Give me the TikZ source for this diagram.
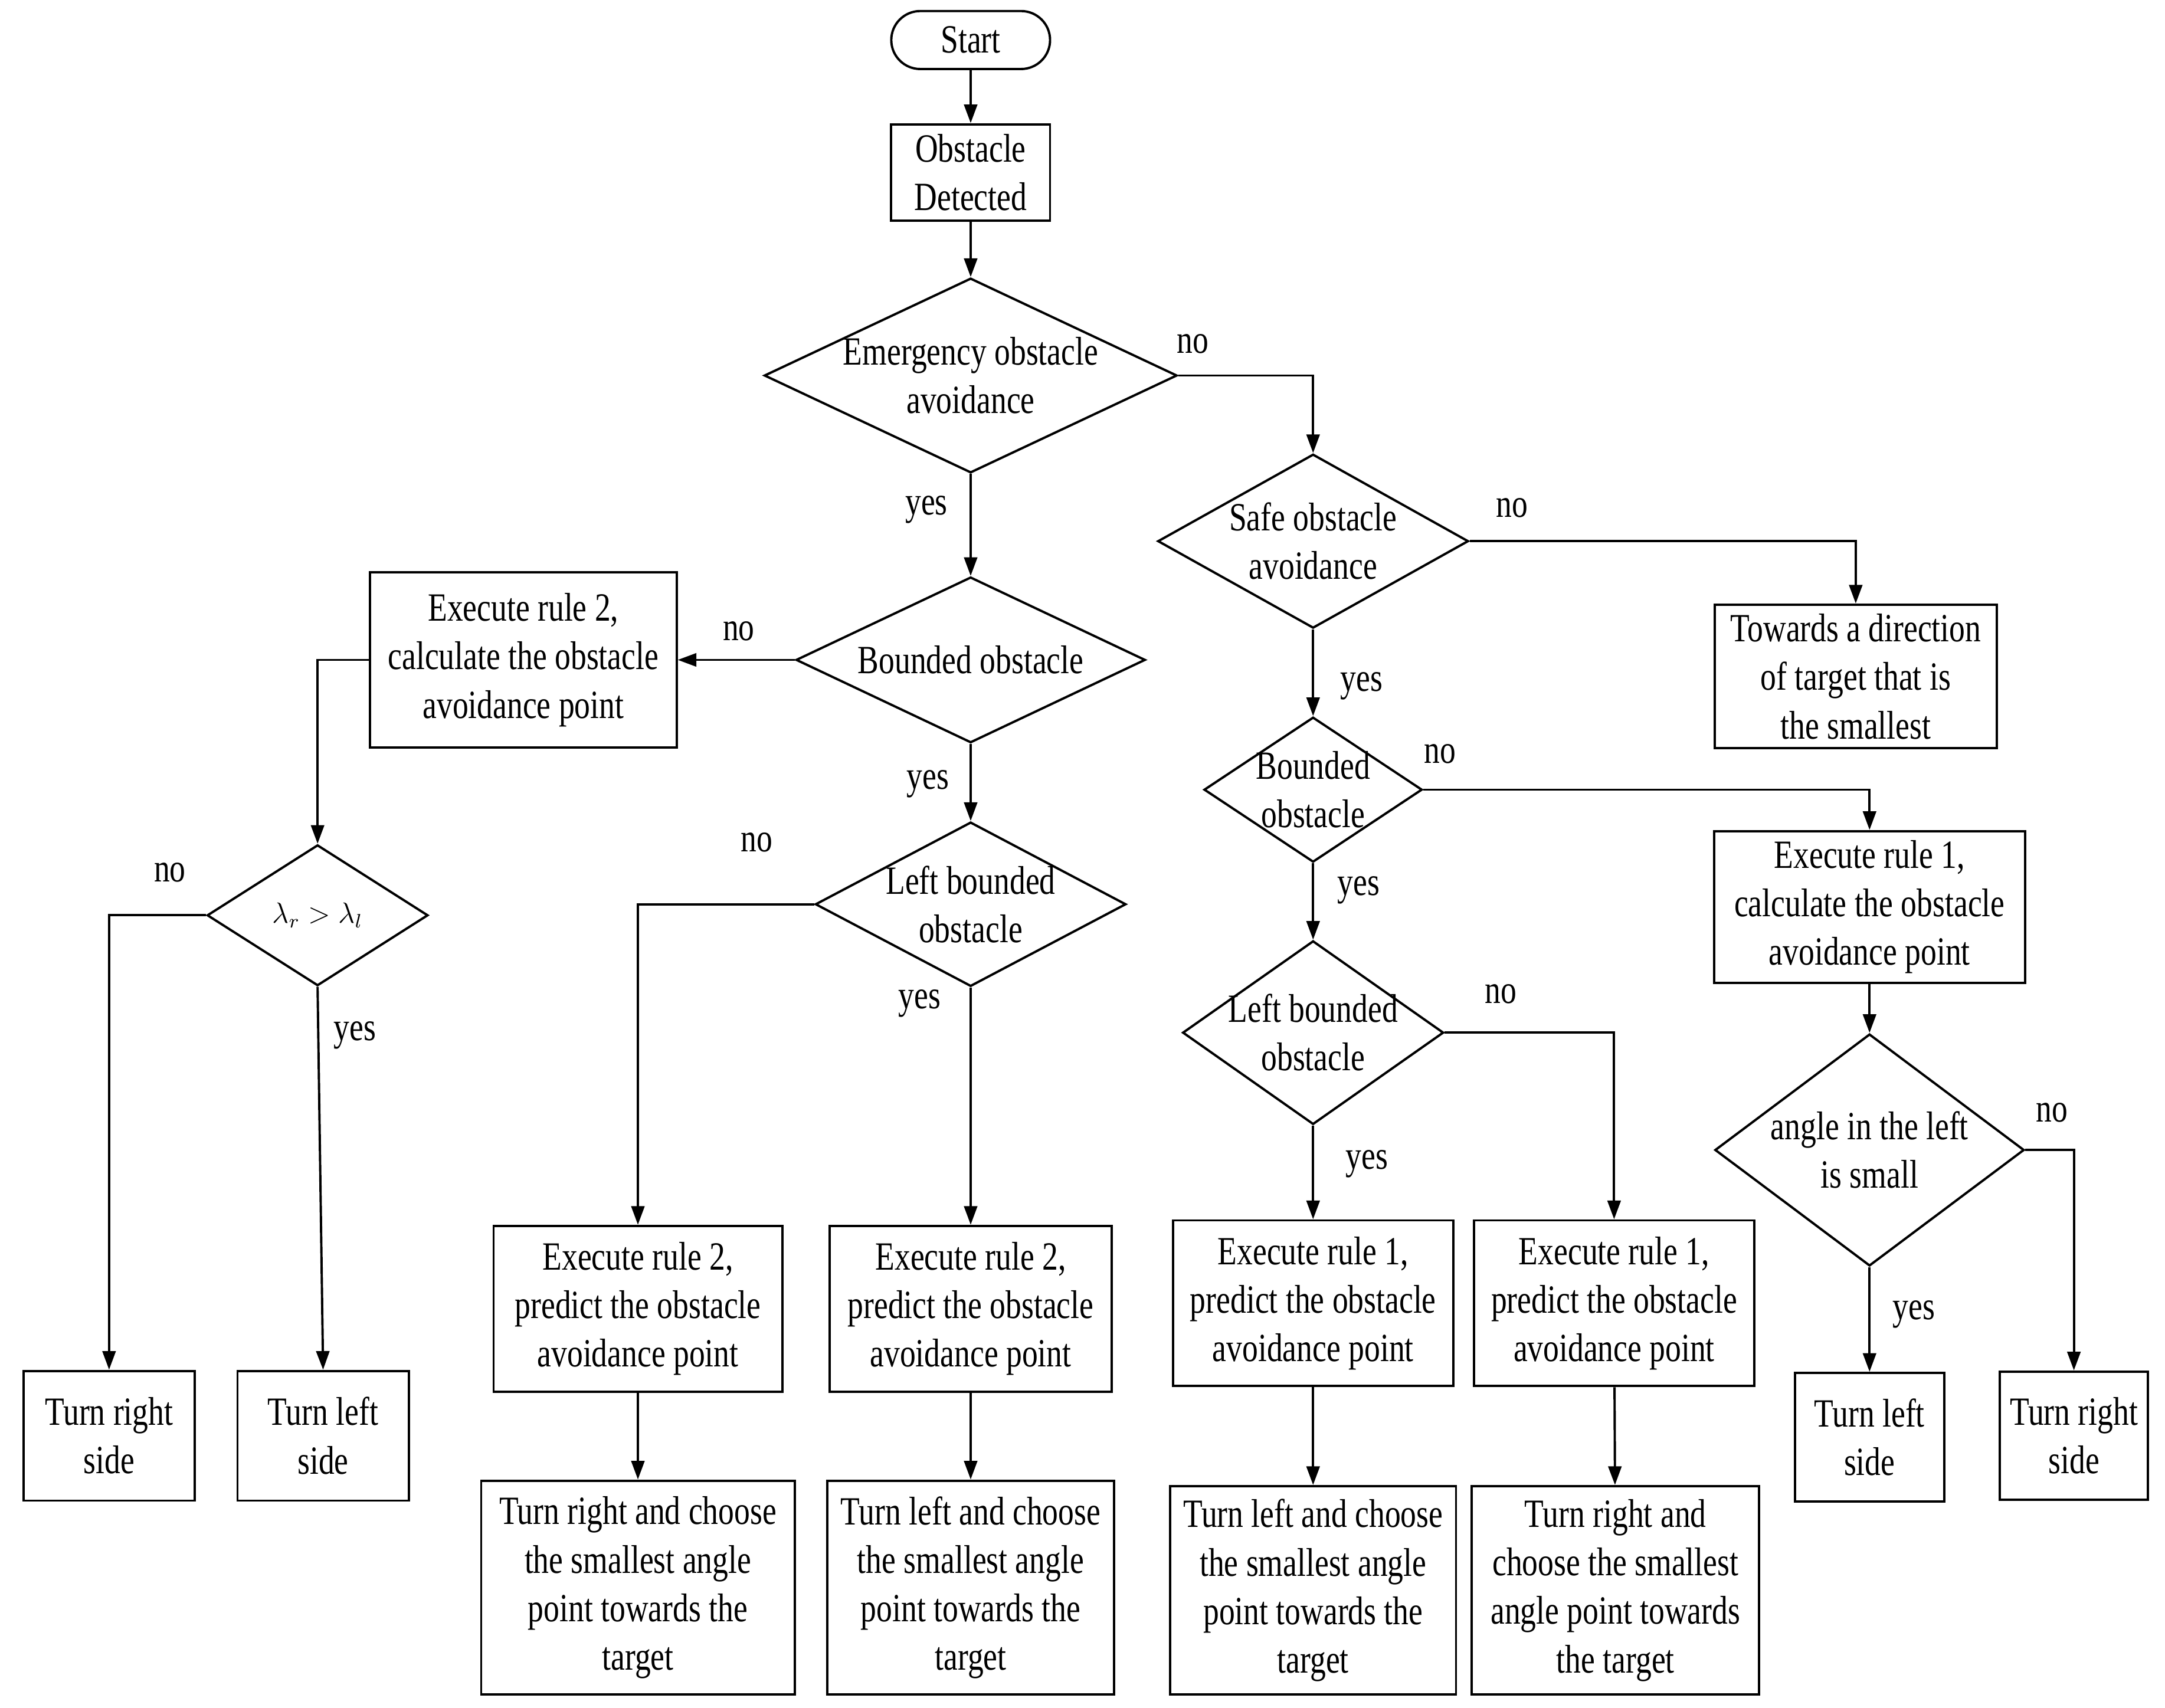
\documentclass[tikz,border=0pt]{standalone}
\usepackage{fontspec}
\setmainfont{Liberation Serif}[FakeStretch=0.79]
\usetikzlibrary{arrows.meta,shapes.geometric}

\begin{document}
\begin{tikzpicture}[
    font=\fontsize{16.5}{20}\selectfont,
    every path/.style={line width=0.95pt},
    arr/.style={-{Triangle[length=0.27cm,width=0.19cm]}},
    box/.style 2 args={draw, align=center, inner sep=0pt, minimum width=#1cm, minimum height=#2cm},
    decision/.style 2 args={diamond, draw, inner sep=0pt, minimum width=#1cm, minimum height=#2cm},
    txt/.style={align=center, inner sep=0pt}
]
    \useasboundingbox (0,0) rectangle (31.36,-24.74);

    \node[box={2.30}{0.84}, rounded corners=0.42cm] (start) at (14.06,-0.58) {Start};
    \node[box={2.30}{1.40}] (det) at (14.06,-2.50) {Obstacle\\Detected};
    \node[decision={5.98}{2.82}, label={[txt]center:Emergency obstacle\\avoidance}] (emg) at (14.06,-5.44) {};
    \node[decision={4.50}{2.52}, label={[txt]center:Safe obstacle\\avoidance}] (safe) at (19.02,-7.84) {};
    \node[box={4.08}{2.08}] (tow) at (26.88,-9.80) {Towards a direction\\of target that is\\the smallest};

    \node[decision={5.06}{2.40}, label={[txt]center:Bounded obstacle}] (bndl) at (14.06,-9.56) {};
    \node[box={4.44}{2.54}] (rtwo) at (7.58,-9.56) {Execute rule 2,\\calculate the obstacle\\avoidance point};
    \node[decision={3.20}{2.04}, label={[txt,font=\fontsize{12}{14}\selectfont]center:$\lambda_r>\lambda_l$}] (lam) at (4.60,-13.26) {};
    \node[box={2.48}{1.88}] (trl) at (1.58,-20.80) {Turn right\\side};
    \node[box={2.48}{1.88}] (tll) at (4.68,-20.80) {Turn left\\side};

    \node[decision={4.50}{2.38}, label={[txt]center:Left bounded\\obstacle}] (lbl) at (14.06,-13.10) {};
    \node[box={4.18}{2.40}] (pa) at (9.24,-18.96) {Execute rule 2,\\predict the obstacle\\avoidance point};
    \node[box={4.08}{2.40}] (pb) at (14.06,-18.96) {Execute rule 2,\\predict the obstacle\\avoidance point};
    \node[box={4.54}{3.10}] (ca) at (9.24,-23.00) {Turn right and choose\\the smallest angle\\point towards the\\target};
    \node[box={4.16}{3.10}] (cb) at (14.06,-23.00) {Turn left and choose\\the smallest angle\\point towards the\\target};

    \node[decision={3.16}{2.10}, label={[txt]center:Bounded\\obstacle}] (bndr) at (19.02,-11.44) {};
    \node[box={4.50}{2.20}] (rone) at (27.08,-13.14) {Execute rule 1,\\calculate the obstacle\\avoidance point};
    \node[decision={3.78}{2.66}, label={[txt]center:Left bounded\\obstacle}] (lbr) at (19.02,-14.96) {};
    \node[box={4.06}{2.40}] (pc) at (19.02,-18.88) {Execute rule 1,\\predict the obstacle\\avoidance point};
    \node[box={4.06}{2.40}] (pd) at (23.38,-18.88) {Execute rule 1,\\predict the obstacle\\avoidance point};
    \node[box={4.14}{3.02}] (cc) at (19.02,-23.04) {Turn left and choose\\the smallest angle\\point towards the\\target};
    \node[box={4.16}{3.02}] (cd) at (23.40,-23.04) {Turn right and\\choose the smallest\\angle point towards\\the target};

    \node[decision={4.48}{3.36}, label={[txt]center:angle in the left\\is small}] (ang) at (27.08,-16.66) {};
    \node[box={2.16}{1.86}] (tlr) at (27.08,-20.82) {Turn left\\side};
    \node[box={2.14}{1.86}] (trr) at (30.04,-20.80) {Turn right\\side};

    \draw[arr] (start) -- (det);
    \draw[arr] (det) -- (emg);
    \draw[arr] (emg) -- (bndl);
    \draw[arr] (emg.east) -| (safe.north);
    \draw[arr] (safe) -- (bndr);
    \draw[arr] (safe.east) -| (tow.north);
    \draw[arr] (bndl.west) -- (rtwo.east);
    \draw[arr] (bndl) -- (lbl);
    \draw[arr] (rtwo.west) -| (lam.north);
    \draw[arr] (lam.west) -| (trl.north);
    \draw[arr] (lam.south) -- (tll.north);
    \draw[arr] (lbl.west) -| (pa.north);
    \draw[arr] (lbl) -- (pb);
    \draw[arr] (pa) -- (ca);
    \draw[arr] (pb) -- (cb);
    \draw[arr] (bndr.east) -| (rone.north);
    \draw[arr] (bndr) -- (lbr);
    \draw[arr] (lbr.east) -| (pd.north);
    \draw[arr] (lbr) -- (pc);
    \draw[arr] (pc) -- (cc);
    \draw[arr] (pd) -- (cd);
    \draw[arr] (rone) -- (ang);
    \draw[arr] (ang) -- (tlr);
    \draw[arr] (ang.east) -| (trr.north);

    \foreach \x/\y/\t [count=\k] in {17.28/-4.98/no, 13.42/-7.38/yes, 21.90/-7.36/no,
        19.72/-9.94/yes, 10.70/-9.14/no, 13.44/-11.36/yes, 20.86/-10.92/no,
        10.96/-12.20/no, 2.46/-12.64/no, 19.68/-12.90/yes, 13.32/-14.54/yes,
        21.74/-14.40/no, 5.14/-15.00/yes, 29.72/-16.12/no, 19.80/-16.86/yes,
        27.72/-19.04/yes} {
        \node[inner sep=0pt] (lbl\k) at (\x,\y) {\t};
    }
\end{tikzpicture}
\end{document}
